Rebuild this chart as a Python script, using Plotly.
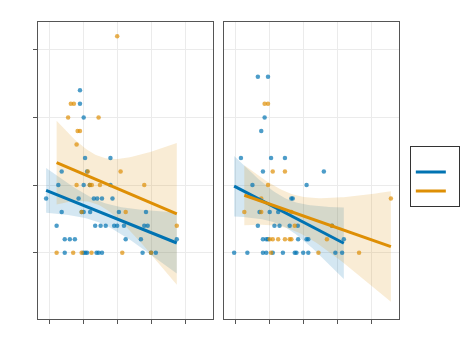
import numpy as np
import plotly.graph_objects as go
from plotly.subplots import make_subplots

BLUE = "#0173b2"
ORANGE = "#de8f05"

# Left panel
left_blue_x = [0.89, 0.89, 1.0, 1.04, 1.79, 0.35, 1.1, 0.25, 1.0, 1.18, 1.79, -0.11, 0.85, 1.3, 1.4, 1.54,
               1.85, 0.35, 0.94, 1.0, 1.19, 2.04, 2.84, 0.2, 1.34, 1.5, 1.65, 1.9, 1.99, 2.19, 2.79, 2.89,
               0.44, 0.59, 0.74, 2.24, 2.69, 3.75, 0.44, 0.99, 1.05, 1.1, 1.38, 1.44, 1.54, 2.74, 3.13, 2.99]
left_blue_y = [3.4, 3.2, 3.0, 2.4, 2.4, 2.2, 2.2, 2.0, 2.0, 2.0, 2.0, 1.8, 1.8, 1.8, 1.8, 1.8,
               1.8, 1.6, 1.6, 1.6, 1.6, 1.6, 1.6, 1.4, 1.4, 1.4, 1.4, 1.4, 1.4, 1.4, 1.4, 1.4,
               1.2, 1.2, 1.2, 1.2, 1.2, 1.2, 1.0, 1.0, 1.0, 1.0, 1.0, 1.0, 1.0, 1.0, 1.0, 1.0]
left_orange_x = [1.99, 0.62, 0.71, 0.54, 1.44, 0.82, 0.89, 0.79, 0.79, 1.12, 1.18, 1.24, 1.48, 2.09,
                 2.79, 2.24, 3.75, 0.2, 0.69, 0.94, 1.23, 2.14, 2.99, 0.94]
left_orange_y = [4.2, 3.2, 3.2, 3.0, 3.0, 2.8, 2.8, 2.6, 2.0, 2.2, 2.0, 2.0, 2.0, 2.2,
                 2.0, 1.6, 1.4, 1.0, 1.0, 1.0, 1.0, 1.0, 1.0, 1.6]

# Right panel
right_blue_x = [0.65, 0.95, 0.85, 0.75, 0.15, 1.04, 1.45, 0.8, 2.6, 0.49, 2.09, 1.64, 1.68, 0.7, 1.0,
                1.25, 0.65, 1.14, 1.29, 1.59, 1.83, 2.84, 0.8, 0.9, 0.95, 1.84, 2.09, 2.14, 3.19,
                -0.05, 0.34, 0.8, 0.9, 1.09, 1.39, 1.74, 1.79, 1.99, 2.14, 2.94, 3.14]
right_blue_y = [3.6, 3.6, 3.0, 2.8, 2.4, 2.4, 2.4, 2.2, 2.2, 2.0, 2.0, 1.8, 1.8, 1.6, 1.6,
                1.6, 1.4, 1.4, 1.4, 1.4, 1.4, 1.4, 1.2, 1.2, 1.2, 1.2, 1.2, 1.2, 1.2,
                1.0, 1.0, 1.0, 1.0, 1.0, 1.0, 1.0, 1.0, 1.0, 1.0, 1.0, 1.0]
right_orange_x = [0.85, 0.95, 1.09, 1.45, 0.95, 0.75, 0.25, 0.75, 1.64, 4.58, 2.84, 1.74, 1.0, 1.09,
                  1.25, 1.45, 1.59, 1.64, 2.69, 1.04, 2.44, 3.64]
right_orange_y = [3.2, 3.2, 2.2, 2.2, 2.0, 1.8, 1.6, 1.6, 1.6, 1.8, 1.4, 1.4, 1.2, 1.2,
                  1.2, 1.2, 1.2, 1.2, 1.2, 1.0, 1.0, 1.0]

x_ticks = [0, 1, 2, 3, 4]
y_ticks = [1, 2, 3, 4]


def fit_band(xs, ys, t=2.0, n_grid=60):
    x = np.asarray(xs, float)
    y = np.asarray(ys, float)
    n = len(x)
    b, a = np.polyfit(x, y, 1)
    resid = y - (a + b * x)
    s = np.sqrt(np.sum(resid ** 2) / (n - 2))
    xbar = x.mean()
    sxx = np.sum((x - xbar) ** 2)
    g = np.linspace(x.min(), x.max(), n_grid)
    yh = a + b * g
    se = s * np.sqrt(1.0 / n + (g - xbar) ** 2 / sxx)
    return g, yh, yh - t * se, yh + t * se


def rgba(hexc, a):
    h = hexc.lstrip("#")
    return "rgba(%d,%d,%d,%.2f)" % (int(h[0:2], 16), int(h[2:4], 16), int(h[4:6], 16), a)


fig = make_subplots(rows=1, cols=2, shared_yaxes=True, horizontal_spacing=0.0305)

panels = [
    (1, [(left_blue_x, left_blue_y, BLUE), (left_orange_x, left_orange_y, ORANGE)]),
    (2, [(right_blue_x, right_blue_y, BLUE), (right_orange_x, right_orange_y, ORANGE)]),
]

for col, groups in panels:
    # bands
    for xs, ys, c in groups:
        g, yh, lo, hi = fit_band(xs, ys)
        fig.add_trace(go.Scatter(x=np.concatenate([g, g[::-1]]), y=np.concatenate([hi, lo[::-1]]),
                                 fill="toself", fillcolor=rgba(c, 0.17), line=dict(width=0),
                                 hoverinfo="skip", showlegend=False), row=1, col=col)
    # points
    for xs, ys, c in groups:
        fig.add_trace(go.Scatter(x=xs, y=ys, mode="markers",
                                 marker=dict(color=c, size=4.5, opacity=0.7, line=dict(width=0)),
                                 showlegend=False), row=1, col=col)
    # lines
    for xs, ys, c in groups:
        g, yh, lo, hi = fit_band(xs, ys)
        fig.add_trace(go.Scatter(x=g, y=yh, mode="lines", line=dict(color=c, width=3),
                                 name=" ", showlegend=(col == 1)), row=1, col=col)

axis_common = dict(showgrid=True, gridcolor="#ebebeb", gridwidth=1, zeroline=False,
                   showline=True, linecolor="#555555", linewidth=1, mirror=True,
                   showticklabels=False)

for col in (1, 2):
    fig.update_xaxes(range=[-0.35, 4.82], tickvals=x_ticks, ticks="outside", ticklen=4,
                     tickcolor="#555555", row=1, col=col, **axis_common)
fig.update_yaxes(range=[0.02, 4.41], tickvals=y_ticks, ticks="outside", ticklen=4,
                 tickcolor="#555555", row=1, col=1, **axis_common)
fig.update_yaxes(range=[0.02, 4.41], tickvals=y_ticks, ticks="", row=1, col=2, **axis_common)

fig.update_layout(
    width=466, height=347,
    margin=dict(l=30, r=75, t=14, b=36),
    plot_bgcolor="white", paper_bgcolor="white",
    font=dict(family="DejaVu Sans", size=7),
    legend=dict(x=1.03, y=0.5825, xanchor="left", yanchor="top",
                bordercolor="#333333", borderwidth=1, bgcolor="white",
                title=dict(text=" ", font=dict(size=8)), itemwidth=30, tracegroupgap=0,
                font=dict(size=7)),
)

fig.write_html("out.html")
